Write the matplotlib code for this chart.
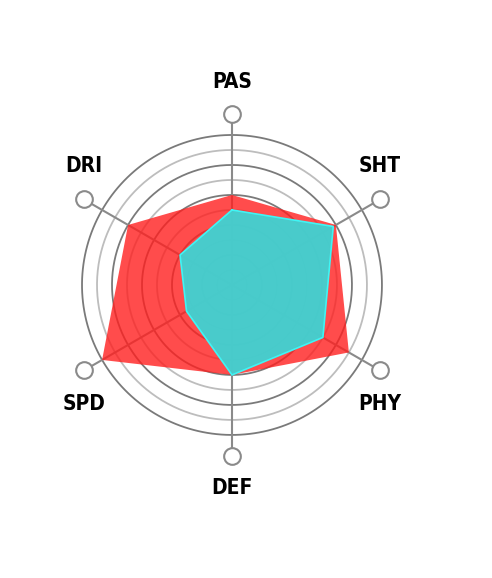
import numpy as np
import matplotlib
matplotlib.use("Agg")
import matplotlib.pyplot as plt

categories = ["PAS", "SHT", "PHY", "DEF", "SPD", "DRI"]
red_values = [60, 80, 90, 60, 100, 80]
cyan_values = [50, 78, 70, 60, 35, 40]
ring_levels = [10, 20, 30, 40, 50, 60, 70, 80, 90, 100]

fig = plt.figure(figsize=(4.92, 5.78), dpi=100)
ax = fig.add_axes([0.124, 0.211, 0.695, 0.592], projection="polar")
ax.set_theta_zero_location("N")
ax.set_theta_direction(-1)
ax.set_ylim(0, 114)
ax.axis("off")

n = len(categories)
angles = np.arange(n) * 2 * np.pi / n
tt = np.linspace(0, 2 * np.pi, 400)

for i, lv in enumerate(ring_levels):
    col = "#7a7a7a" if i % 2 == 1 else "#bdbdbd"
    ax.plot(tt, np.full_like(tt, lv), color=col, lw=1.3, zorder=1)

for a in angles:
    ax.plot([a, a], [0, 108], color="#8a8a8a", lw=1.5, zorder=1)
    ax.plot([a], [114], marker="o", ms=12, mfc="white", mec="#8a8a8a", mew=1.5,
            clip_on=False, zorder=5)

ca = np.append(angles, angles[0])
rv = np.append(red_values, red_values[0])
cv = np.append(cyan_values, cyan_values[0])
ax.fill(ca, rv, color="#ff1f1f", alpha=0.8, lw=0, zorder=2)
ax.fill(ca, cv, color="#3fd3d3", alpha=0.95, lw=0, zorder=3)
ax.plot(ca, cv, color="#3ff5f5", lw=1.2, zorder=4)

offsets = {"PAS": (0, 23), "SHT": (0, 24), "PHY": (0, -24),
           "DEF": (0, -23), "SPD": (0, -24), "DRI": (0, 24)}
for a, c in zip(angles, categories):
    ax.annotate(c, xy=(a, 114), xytext=offsets[c], textcoords="offset points",
                ha="center", va="center", fontsize=15, fontweight="bold",
                fontstretch="condensed", family="DejaVu Sans", color="black",
                annotation_clip=False)

fig.savefig("out.png", dpi=100, facecolor="white")
